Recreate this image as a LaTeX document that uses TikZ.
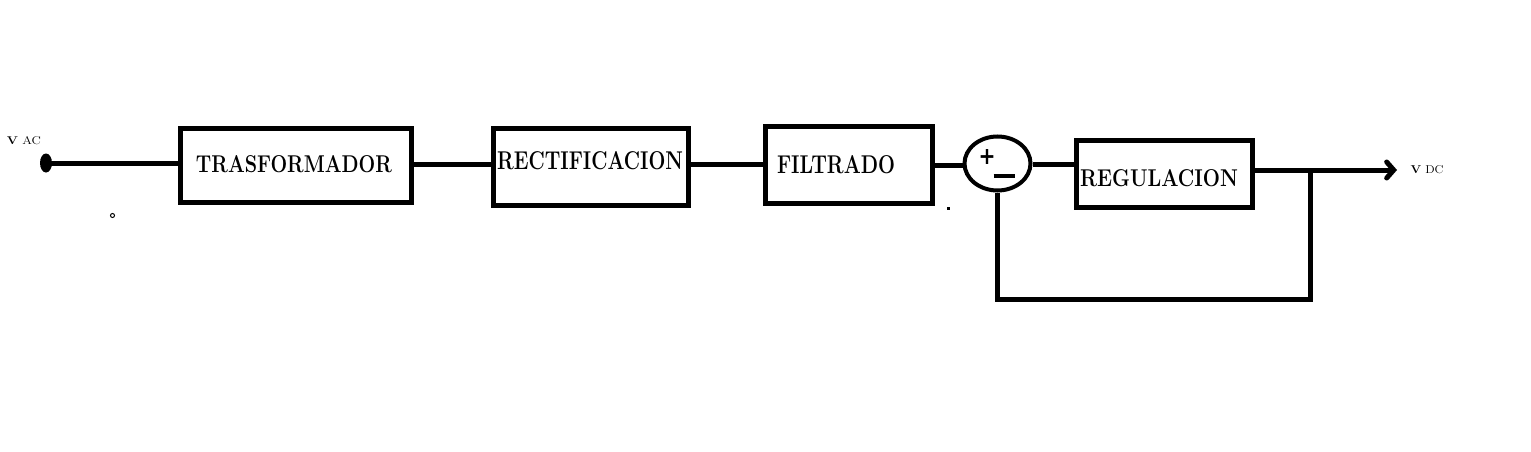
\documentclass[tikz,border=0pt]{standalone}
\usepackage{fontspec}
\newfontfamily\symfont{DejaVu Sans}
\usetikzlibrary{shapes.geometric,arrows.meta}
\newcommand{\fitwh}[3]{\resizebox{#1}{#2}{#3}}
\begin{document}
\begin{tikzpicture}[x=1pt,y=-1pt,
  wire/.style={line width=5pt},
  blockbox/.style={draw,line width=5pt,rectangle,inner sep=0pt},
  blocklabel/.style={font=\fontsize{20}{24}\selectfont\bfseries,inner sep=0pt},
  smalllabel/.style={font=\fontsize{12}{14}\selectfont,inner sep=0pt}]
\useasboundingbox (0,0) rectangle (1531,452);
\fill[white] (0,0) rectangle (1531,452);
% blocks
\node[blockbox,minimum width=231pt,minimum height=74pt] (T) at (295.5,165) {};
\node[blockbox,minimum width=195pt,minimum height=77pt] (R) at (590.5,166.5) {};
\node[blockbox,minimum width=167pt,minimum height=77pt] (F) at (848.5,164.5) {};
\node[blockbox,minimum width=176pt,minimum height=67pt] (G) at (1164,173.5) {};
\node[draw,line width=4pt,ellipse,minimum width=66pt,minimum height=54pt,inner sep=0pt] (S) at (997.5,163.5) {};
% labels
\node[blocklabel] (tT) at (294,164) {\fitwh{196pt}{17pt}{TRASFORMADOR}};
\node[blocklabel] (tR) at (590,161) {\fitwh{186pt}{18pt}{RECTIFICACION}};
\node[blocklabel] (tF) at (836,165) {\fitwh{118pt}{18pt}{FILTRADO}};
\node[blocklabel] (tG) at (1159,178) {\fitwh{158pt}{17pt}{REGULACION}};
\node[font=\symfont\bfseries,inner sep=0pt] (plus) at (987,157) {\fitwh{17pt}{15pt}{+}};
\node[inner sep=0pt] (minus) at (1004,176) {\rule{21pt}{4pt}};
\node[smalllabel] (vac) at (24,141) {\fitwh{34pt}{8pt}{\textbf{V} AC}};
\node[smalllabel] (vdc) at (1427,170) {\fitwh{33pt}{8pt}{\textbf{V} DC}};
% input dot
\node[fill,ellipse,minimum width=12pt,minimum height=19pt,inner sep=0pt] (in) at (46,163) {};
% stray marks
\node[draw,circle,line width=1pt,minimum size=4pt,inner sep=0pt] (m1) at (112.5,215.5) {};
\node[fill,rectangle,minimum size=3pt,inner sep=0pt] (m2) at (948.5,208.5) {};
% connectors
\coordinate (out) at (1397,170);
\coordinate (tap) at (1310,170);
\coordinate (fb) at (1310,299);
\draw[wire] (in.center) -- (T.west |- in.center);
\draw[wire] (T.east |- 0,164) -- (R.west |- 0,164);
\draw[wire] (R.east |- 0,164) -- (F.west |- 0,164);
\draw[wire] (F.east |- 0,165) -- (S.west |- 0,165);
\draw[wire] (S.east |- 0,164) -- (G.west |- 0,164);
\draw[wire,-{Straight Barb[length=7pt,width=16pt,line cap=round]}] (G.east |- out) -- (out);
\draw[wire] (tap) -- (fb) -| (S.south);
\end{tikzpicture}
\end{document}
